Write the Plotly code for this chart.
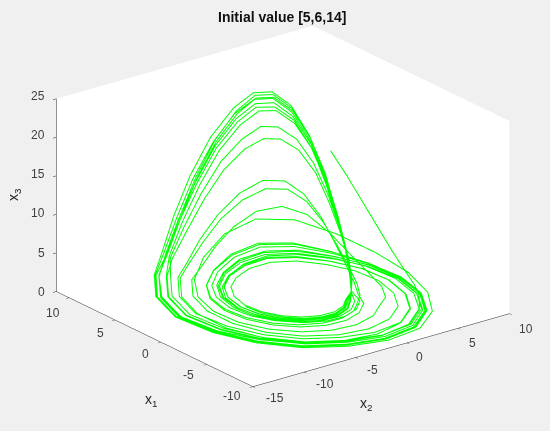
import plotly.graph_objects as go

# ---- trajectory, segment by segment (x1, x2, x3) ----
init_x1 = [5.0, 3.12, 1.71, 0.3, -1.1, -2.27, -3.15, -4.3, -5.94, -7.66, -8.1, -7.48, -6.09, -3.8, -0.87, 2.56, 5.9, 8.69]
init_x2 = [6.0, 5.86, 6.06, 6.26, 6.46, 6.68, 6.87, 6.3, 4.86, 2.28, -0.8, -3.8, -6.58, -8.77, -10.26, -10.75, -9.63, -7.42]
init_x3 = [14.0, 12.0, 9.5, 7.0, 4.5, 2.5, 1.0, 0.5, 0.3, 0.2, 0.15, 0.15, 0.15, 0.15, 0.15, 0.2, 0.4, 0.8]

s0_x1 = [9.8, 10.5, 10.4, 9.5, 8.0, 6.4, 4.8, 3.3, 2.0, 1.0, 0.3, -0.3, -0.9, -1.4]
s0_x2 = [-5.6, -3.7, -2.2, -1.1, -0.4, 0.0, 0.3, 0.8, 1.4, 2.0, 2.5, 2.8, 2.7, 2.3]
s0_x3 = [2.2, 5.7, 10.4, 15.3, 19.5, 22.3, 23.2, 22.1, 19.0, 14.4, 9.5, 5.3, 2.4, 0.9]

a_x1 = [-1.88, -2.74, -3.24, -3.26, -2.72, -1.63, -0.09, 1.74, 3.64, 5.36, 6.65, 7.36, 7.35, 6.45, 4.69, 2.23, -0.70, -3.67, -6.31, -8.18, -8.66, -7.94, -6.42, -3.97, -0.90, 2.58, 5.95, 8.69]
a_x2 = [1.45, 0.49, -0.80, -2.28, -3.75, -5.01, -5.85, -6.12, -5.72, -4.63, -2.93, -0.80, 1.58, 3.95, 5.94, 7.27, 7.67, 6.94, 5.17, 2.47, -0.80, -3.97, -6.86, -9.05, -10.46, -10.90, -9.72, -7.42]
a_x3 = [0.3, 0.2, 0.15, 0.15, 0.15, 0.15, 0.15, 0.15, 0.2, 0.25, 0.5, 0.9, 1.1, 0.9, 0.5, 0.3, 0.2, 0.15, 0.15, 0.15, 0.15, 0.15, 0.15, 0.15, 0.2, 0.3, 0.45, 0.8]

sa_x1 = [9.9, 10.6, 10.5, 9.6, 8.1, 6.5, 4.9, 3.4, 2.1, 1.1, 0.3, -0.3, -0.9, -1.4]
sa_x2 = [-5.6, -3.7, -2.2, -1.1, -0.4, 0.0, 0.3, 0.8, 1.4, 2.0, 2.5, 2.8, 2.7, 2.3]
sa_x3 = [2.2, 5.8, 10.5, 15.5, 19.8, 22.6, 23.5, 22.4, 19.2, 14.6, 9.6, 5.4, 2.4, 0.9]

b_x1 = [-1.83, -2.65, -3.13, -3.14, -2.64, -1.61, -0.15, 1.60, 3.41, 5.05, 6.28, 6.97, 6.97, 6.11, 4.43, 2.07, -0.74, -3.59, -6.13, -7.92, -8.37, -7.67, -6.22, -3.87, -0.94, 2.41, 5.65, 8.28]
b_x2 = [1.42, 0.52, -0.70, -2.10, -3.50, -4.70, -5.51, -5.77, -5.39, -4.35, -2.73, -0.70, 1.58, 3.84, 5.76, 7.03, 7.43, 6.73, 5.03, 2.44, -0.70, -3.74, -6.51, -8.61, -9.96, -10.40, -9.27, -7.07]
b_x3 = [0.3, 0.2, 0.15, 0.15, 0.15, 0.15, 0.15, 0.15, 0.2, 0.25, 0.4, 0.7, 0.9, 0.7, 0.4, 0.3, 0.2, 0.15, 0.15, 0.15, 0.15, 0.15, 0.15, 0.15, 0.2, 0.3, 0.45, 0.8]

sb_x1 = [9.7, 10.4, 10.2, 9.3, 7.8, 6.2, 4.7, 3.2, 1.9, 1.0, 0.3, -0.3, -0.9, -1.4]
sb_x2 = [-5.5, -3.6, -2.1, -1.0, -0.3, 0.1, 0.4, 0.9, 1.5, 2.0, 2.5, 2.8, 2.7, 2.3]
sb_x3 = [2.0, 5.3, 9.6, 14.2, 18.1, 20.7, 21.5, 20.5, 17.6, 13.4, 8.8, 4.9, 2.2, 0.8]

c_x1 = [-2.09, -3.01, -3.53, -3.51, -2.90, -1.71, -0.05, 1.90, 3.91, 5.71, 7.05, 7.77, 7.73, 6.77, 4.93, 2.37, -0.64, -3.69, -6.38, -8.28, -8.77, -8.03, -6.48, -3.97, -0.84, 2.72, 6.15, 8.94]
c_x2 = [1.61, 0.52, -0.90, -2.50, -4.09, -5.42, -6.30, -6.56, -6.10, -4.94, -3.14, -0.90, 1.59, 4.03, 6.08, 7.42, 7.82, 7.05, 5.21, 2.44, -0.90, -4.14, -7.09, -9.33, -10.75, -11.19, -9.99, -7.65]
c_x3 = [0.3, 0.2, 0.15, 0.15, 0.15, 0.15, 0.15, 0.15, 0.2, 0.25, 0.6, 1.2, 1.6, 1.3, 0.7, 0.3, 0.2, 0.15, 0.15, 0.15, 0.15, 0.15, 0.15, 0.15, 0.2, 0.3, 0.45, 0.8]

sc_x1 = [10.1, 10.9, 10.8, 9.9, 8.3, 6.6, 5.0, 3.5, 2.2, 1.1, 0.4, -0.2, -0.8, -1.4]
sc_x2 = [-5.9, -4.0, -2.5, -1.3, -0.5, -0.1, 0.3, 0.8, 1.4, 2.0, 2.5, 2.8, 2.7, 2.3]
sc_x3 = [2.2, 5.9, 10.6, 15.7, 20.1, 22.9, 23.8, 22.7, 19.4, 14.8, 9.7, 5.5, 2.4, 0.9]

d_x1 = [-2.49, -3.44, -3.92, -3.84, -3.14, -1.88, -0.17, 1.81, 3.80, 5.56, 6.83, 7.49, 7.38, 6.41, 4.62, 2.19, -0.64, -3.47, -5.95, -7.68, -8.08, -7.36, -5.93, -3.64, -0.79, 2.46, 5.60, 8.15]
d_x2 = [2.16, 0.94, -0.60, -2.29, -3.91, -5.24, -6.09, -6.29, -5.80, -4.59, -2.80, -0.60, 1.79, 4.11, 6.02, 7.24, 7.56, 6.80, 5.06, 2.48, -0.60, -3.56, -6.25, -8.28, -9.59, -10.02, -8.91, -6.77]
d_x3 = [0.3, 0.2, 0.15, 0.15, 0.15, 0.15, 0.15, 0.15, 0.2, 0.25, 0.5, 1.0, 1.2, 1.0, 0.5, 0.3, 0.2, 0.15, 0.15, 0.15, 0.15, 0.15, 0.15, 0.15, 0.2, 0.3, 0.45, 0.8]

sd_x1 = [9.6, 10.2, 10.0, 9.1, 7.6, 6.0, 4.5, 3.0, 1.8, 0.9, 0.2, -0.4, -0.9, -1.4]
sd_x2 = [-5.5, -3.6, -2.1, -1.0, -0.3, 0.1, 0.4, 0.9, 1.5, 2.1, 2.6, 2.9, 2.8, 2.3]
sd_x3 = [1.8, 4.8, 8.7, 12.9, 16.4, 18.8, 19.5, 18.6, 15.9, 12.1, 8.0, 4.5, 2.0, 0.8]

e_x1 = [-1.96, -2.78, -3.22, -3.19, -2.61, -1.53, -0.05, 1.68, 3.45, 5.02, 6.18, 6.79, 6.72, 5.87, 4.27, 2.06, -0.52, -3.12, -5.41, -7.02, -7.38, -6.71, -5.40, -3.29, -0.66, 2.34, 5.25, 7.62]
e_x2 = [1.51, 0.50, -0.80, -2.25, -3.66, -4.84, -5.60, -5.80, -5.39, -4.34, -2.76, -0.80, 1.35, 3.46, 5.21, 6.35, 6.67, 5.99, 4.41, 2.05, -0.80, -3.52, -6.00, -7.87, -9.10, -9.53, -8.51, -6.52]
e_x3 = [0.3, 0.2, 0.15, 0.15, 0.15, 0.15, 0.15, 0.15, 0.2, 0.25, 0.4, 0.6, 0.8, 0.6, 0.4, 0.3, 0.2, 0.15, 0.15, 0.15, 0.15, 0.15, 0.15, 0.15, 0.2, 0.3, 0.45, 0.8]

me_x1 = [8.6, 9.2, 9.0, 8.1, 6.8, 5.3, 3.9, 2.6, 1.4, 0.3, -0.8, -1.8]
me_x2 = [-4.8, -3.0, -1.4, -0.1, 1.0, 1.8, 2.4, 2.9, 3.2, 3.3, 3.1, 2.6]
me_x3 = [1.4, 3.4, 6.2, 9.0, 11.0, 11.5, 10.4, 8.0, 5.2, 2.9, 1.4, 0.6]

f_x1 = [-2.98, -4.02, -4.53, -4.42, -3.64, -2.24, -0.36, 1.80, 3.97, 5.86, 7.24, 7.93, 7.80, 6.74, 4.80, 2.18, -0.84, -3.86, -6.49, -8.33, -8.77, -8.03, -6.48, -4.04, -0.99, 2.47, 5.80, 8.51]
f_x2 = [2.09, 0.72, -1.00, -2.86, -4.64, -6.09, -7.01, -7.22, -6.66, -5.33, -3.38, -1.00, 1.58, 4.07, 6.10, 7.40, 7.72, 6.90, 5.04, 2.29, -1.00, -4.17, -7.03, -9.20, -10.58, -11.01, -9.83, -7.56]
f_x3 = [0.3, 0.2, 0.15, 0.15, 0.15, 0.15, 0.15, 0.15, 0.2, 0.3, 0.7, 1.4, 1.9, 1.6, 0.9, 0.4, 0.2, 0.15, 0.15, 0.15, 0.15, 0.15, 0.15, 0.15, 0.2, 0.3, 0.45, 0.8]

sf_x1 = [9.9, 10.6, 10.4, 9.5, 8.0, 6.4, 4.8, 3.3, 2.0, 1.0, 0.3, -0.3, -0.9, -1.5]
sf_x2 = [-5.7, -3.8, -2.3, -1.2, -0.5, -0.1, 0.3, 0.8, 1.4, 2.0, 2.5, 2.8, 2.6, 2.2]
sf_x3 = [2.1, 5.6, 10.0, 14.8, 18.9, 21.6, 22.5, 21.4, 18.4, 14.0, 9.2, 5.2, 2.3, 0.9]

g_x1 = [-1.70, -2.47, -2.86, -2.80, -2.26, -1.25, 0.12, 1.71, 3.32, 4.75, 5.79, 6.33, 6.26, 5.47, 4.02, 2.03, -0.28, -2.60, -4.64, -6.07, -6.64, -6.27, -5.01, -3.00, -0.46, 2.27, 4.85, 6.95]
g_x2 = [1.49, 0.52, -0.70, -2.05, -3.35, -4.42, -5.11, -5.29, -4.89, -3.93, -2.48, -0.70, 1.25, 3.14, 4.70, 5.71, 5.98, 5.36, 3.95, 1.83, -0.70, -3.31, -5.66, -7.45, -8.41, -8.45, -7.54, -5.78]
g_x3 = [0.3, 0.2, 0.15, 0.15, 0.15, 0.15, 0.15, 0.15, 0.2, 0.25, 0.3, 0.5, 0.6, 0.5, 0.3, 0.25, 0.2, 0.15, 0.15, 0.15, 0.15, 0.15, 0.15, 0.15, 0.2, 0.25, 0.35, 0.6]

lg_x1 = [7.9, 8.5, 8.4, 7.7, 6.5, 5.0, 3.4, 1.7, 0.0, -1.7, -3.0]
lg_x2 = [-3.9, -2.1, -0.4, 1.2, 2.6, 3.7, 4.5, 5.0, 5.2, 5.0, 4.2]
lg_x3 = [1.2, 2.6, 4.6, 6.4, 7.2, 6.6, 4.8, 2.8, 1.4, 0.6, 0.3]

h_x1 = [-3.80, -5.01, -5.56, -5.35, -4.35, -2.65, -0.43, 2.06, 4.52, 6.64, 8.13, 8.83, 8.60, 7.36, 5.22, 2.39, -0.83, -4.00, -6.73, -8.61, -9.04, -8.26, -6.65, -4.10, -0.94, 2.62, 6.05, 8.84]
h_x2 = [2.96, 1.21, -0.90, -3.14, -5.22, -6.88, -7.87, -8.05, -7.34, -5.80, -3.57, -0.90, 1.94, 4.61, 6.76, 8.07, 8.34, 7.41, 5.42, 2.52, -0.90, -4.19, -7.15, -9.38, -10.78, -11.21, -9.99, -7.65]
h_x3 = [0.25, 0.2, 0.15, 0.15, 0.15, 0.15, 0.15, 0.2, 0.35, 0.8, 2.0, 3.6, 4.6, 4.2, 2.8, 1.5, 0.7, 0.3, 0.15, 0.15, 0.15, 0.15, 0.15, 0.15, 0.2, 0.3, 0.45, 0.8]

sh_x1 = [10.0, 10.7, 10.6, 9.7, 8.2, 6.5, 4.9, 3.4, 2.1, 1.1, 0.4, -0.2, -0.8, -1.4]
sh_x2 = [-5.8, -3.9, -2.4, -1.2, -0.5, -0.1, 0.3, 0.8, 1.4, 2.0, 2.5, 2.8, 2.7, 2.3]
sh_x3 = [2.2, 5.7, 10.3, 15.2, 19.4, 22.1, 23.0, 21.9, 18.8, 14.3, 9.4, 5.3, 2.3, 0.9]

i_x1 = [-2.03, -2.90, -3.38, -3.35, -2.77, -1.65, -0.09, 1.74, 3.61, 5.29, 6.53, 7.20, 7.15, 6.25, 4.54, 2.16, -0.63, -3.45, -5.94, -7.70, -8.12, -7.42, -5.99, -3.68, -0.80, 2.48, 5.65, 8.23]
i_x2 = [1.58, 0.55, -0.80, -2.31, -3.80, -5.04, -5.86, -6.10, -5.67, -4.57, -2.89, -0.80, 1.51, 3.78, 5.68, 6.92, 7.28, 6.56, 4.86, 2.29, -0.80, -3.78, -6.49, -8.55, -9.88, -10.32, -9.20, -7.04]
i_x3 = [0.3, 0.2, 0.15, 0.15, 0.15, 0.15, 0.15, 0.15, 0.2, 0.25, 0.5, 0.8, 1.0, 0.8, 0.5, 0.3, 0.2, 0.15, 0.15, 0.15, 0.15, 0.15, 0.15, 0.15, 0.2, 0.3, 0.45, 0.8]

si_x1 = [9.5, 10.0, 9.8, 8.9, 7.4, 5.8, 4.3, 2.9, 1.7, 0.8, 0.1, -0.4, -0.9, -1.4]
si_x2 = [-5.4, -3.5, -2.0, -0.9, -0.2, 0.2, 0.5, 1.0, 1.6, 2.1, 2.6, 2.9, 2.8, 2.3]
si_x3 = [1.7, 4.4, 8.0, 11.9, 15.2, 17.3, 18.0, 17.2, 14.7, 11.2, 7.4, 4.1, 1.8, 0.7]

j_x1 = [-2.36, -3.24, -3.68, -3.61, -2.95, -1.78, -0.20, 1.63, 3.47, 5.09, 6.26, 6.86, 6.76, 5.86, 4.21, 1.97, -0.62, -3.22, -5.49, -7.07, -7.72, -7.30, -5.90, -3.64, -0.82, 2.23, 5.10, 7.44]
j_x2 = [1.77, 0.63, -0.80, -2.37, -3.87, -5.10, -5.87, -6.06, -5.60, -4.48, -2.82, -0.80, 1.41, 3.53, 5.28, 6.40, 6.69, 5.99, 4.40, 2.03, -0.80, -3.71, -6.34, -8.32, -9.40, -9.44, -8.42, -6.46]
j_x3 = [0.3, 0.2, 0.15, 0.15, 0.15, 0.15, 0.15, 0.15, 0.2, 0.25, 0.4, 0.7, 0.9, 0.7, 0.4, 0.3, 0.2, 0.15, 0.15, 0.15, 0.15, 0.15, 0.15, 0.15, 0.2, 0.3, 0.45, 0.8]

mj_x1 = [8.5, 9.0, 8.8, 7.9, 6.6, 5.1, 3.7, 2.4, 1.2, 0.1, -1.0, -2.0]
mj_x2 = [-4.7, -2.9, -1.3, 0.0, 1.1, 1.9, 2.5, 3.0, 3.3, 3.4, 3.2, 2.6]
mj_x3 = [1.3, 3.1, 5.7, 8.2, 10.0, 10.5, 9.5, 7.3, 4.8, 2.7, 1.3, 0.6]

k_x1 = [-2.55, -3.55, -4.06, -3.99, -3.26, -1.93, -0.12, 1.96, 4.08, 5.95, 7.31, 8.01, 7.91, 6.88, 4.98, 2.38, -0.64, -3.67, -6.32, -8.18, -8.64, -7.89, -6.35, -3.88, -0.81, 2.69, 6.05, 8.79]
k_x2 = [1.89, 0.62, -1.00, -2.78, -4.49, -5.90, -6.80, -7.03, -6.51, -5.24, -3.33, -1.00, 1.55, 4.02, 6.06, 7.37, 7.72, 6.92, 5.06, 2.30, -1.00, -4.19, -7.08, -9.28, -10.67, -11.11, -9.92, -7.62]
k_x3 = [0.3, 0.2, 0.15, 0.15, 0.15, 0.15, 0.15, 0.15, 0.2, 0.3, 0.7, 1.5, 2.0, 1.7, 0.9, 0.4, 0.2, 0.15, 0.15, 0.15, 0.15, 0.15, 0.15, 0.15, 0.2, 0.3, 0.45, 0.8]

sk_x1 = [9.8, 10.5, 10.3, 9.4, 7.9, 6.3, 4.7, 3.2, 2.0, 1.0, 0.3, -0.3, -0.9, -1.5]
sk_x2 = [-5.7, -3.8, -2.3, -1.2, -0.5, -0.1, 0.3, 0.8, 1.4, 2.0, 2.5, 2.8, 2.7, 2.2]
sk_x3 = [2.1, 5.4, 9.8, 14.5, 18.5, 21.2, 22.0, 21.0, 18.0, 13.7, 9.0, 5.1, 2.2, 0.8]

tail_x1 = [-1.85, -2.65, -3.1, -3.05, -2.55, -1.5, -0.1, 1.5]
tail_x2 = [1.4, 0.45, -0.8, -2.1, -3.4, -4.5, -5.25, -5.45]
tail_x3 = [0.3, 0.2, 0.15, 0.15, 0.15, 0.15, 0.15, 0.15]

# axis ticks
x1_ticks = [-10, -5, 0, 5, 10]
x2_ticks = [-15, -10, -5, 0, 5, 10]
x3_ticks = [0, 5, 10, 15, 20, 25]

segments = [
    (init_x1, init_x2, init_x3), (s0_x1, s0_x2, s0_x3),
    (a_x1, a_x2, a_x3), (sa_x1, sa_x2, sa_x3),
    (b_x1, b_x2, b_x3), (sb_x1, sb_x2, sb_x3),
    (c_x1, c_x2, c_x3), (sc_x1, sc_x2, sc_x3),
    (d_x1, d_x2, d_x3), (sd_x1, sd_x2, sd_x3),
    (e_x1, e_x2, e_x3), (me_x1, me_x2, me_x3),
    (f_x1, f_x2, f_x3), (sf_x1, sf_x2, sf_x3),
    (g_x1, g_x2, g_x3), (lg_x1, lg_x2, lg_x3),
    (h_x1, h_x2, h_x3), (sh_x1, sh_x2, sh_x3),
    (i_x1, i_x2, i_x3), (si_x1, si_x2, si_x3),
    (j_x1, j_x2, j_x3), (mj_x1, mj_x2, mj_x3),
    (k_x1, k_x2, k_x3), (sk_x1, sk_x2, sk_x3),
    (tail_x1, tail_x2, tail_x3),
]
X1, X2, X3 = [], [], []
for s1, s2, s3 in segments:
    X1 += s1
    X2 += s2
    X3 += s3

AX = '#262626'
LBL = '#404040'
FONT = 'Liberation Sans, Arial, Helvetica, sans-serif'

def axis(rng, ticks):
    return dict(
        range=rng, tickvals=ticks, showticklabels=False,
        showgrid=False, zeroline=False, showline=True, linecolor=AX, linewidth=1,
        ticks='outside', tickcolor=AX, ticklen=4,
        showbackground=True, backgroundcolor='white',
        showspikes=False, title=dict(text=''),
    )

fig = go.Figure(go.Scatter3d(
    x=X2, y=X1, z=X3, mode='lines',
    line=dict(color='#00ff00', width=2), hoverinfo='skip', showlegend=False,
))

# tick labels placed beside the axis ticks (upright text, as in the picture)
x3_lbl_pos = [(47, 292), (47, 253), (47, 213), (47, 174), (47, 135), (47, 96)]
x1_lbl_pos = [(232, 396), (188, 375), (145, 354), (100, 333), (53, 313)]
x2_lbl_pos = [(275, 398), (325, 384), (372, 370), (419, 357), (472, 343), (526, 329)]

ann = []
for t, (px, py) in zip(x3_ticks, x3_lbl_pos):
    ann.append(dict(text=str(t), x=px / 550, y=1 - py / 431, xanchor='right', yanchor='middle'))
for t, (px, py) in zip(x1_ticks, x1_lbl_pos):
    ann.append(dict(text=str(t), x=px / 550, y=1 - py / 431, xanchor='center', yanchor='middle'))
for t, (px, py) in zip(x2_ticks, x2_lbl_pos):
    ann.append(dict(text=str(t), x=px / 550, y=1 - py / 431, xanchor='center', yanchor='middle'))
for a in ann:
    a.update(xref='paper', yref='paper', showarrow=False, font=dict(family=FONT, size=12, color=LBL))

ann += [
    dict(text='<b>Initial value [5,6,14]</b>', x=282 / 550, y=1 - 17 / 431,
         xref='paper', yref='paper', showarrow=False, xanchor='center', yanchor='middle',
         font=dict(family=FONT, size=14, color='#111111')),
    dict(text='x<sub>1</sub>', x=151 / 550, y=1 - 400 / 431, xref='paper', yref='paper',
         showarrow=False, xanchor='center', yanchor='middle',
         font=dict(family=FONT, size=14, color=AX)),
    dict(text='x<sub>2</sub>', x=366 / 550, y=1 - 404 / 431, xref='paper', yref='paper',
         showarrow=False, xanchor='center', yanchor='middle',
         font=dict(family=FONT, size=14, color=AX)),
    dict(text='x<sub>3</sub>', x=14 / 550, y=1 - 195 / 431, xref='paper', yref='paper',
         showarrow=False, xanchor='center', yanchor='middle', textangle=-90,
         font=dict(family=FONT, size=14, color=AX)),
]

fig.update_layout(
    width=550, height=431,
    margin=dict(l=0, r=0, t=0, b=0),
    paper_bgcolor='#f0f0f0',
    font=dict(family=FONT, color=AX),
    scene=dict(
        xaxis=axis([-15, 10], x2_ticks),
        yaxis=axis([-10, 11.4], x1_ticks),
        zaxis=axis([0, 25], x3_ticks),
        aspectmode='manual', aspectratio=dict(x=1.50, y=1.50, z=0.963),
        bgcolor='#f0f0f0',
        domain=dict(x=[0, 1], y=[0, 1]),
        camera=dict(eye=dict(x=-0.594 * 1.3, y=-0.729 * 1.3, z=0.340 * 1.3),
                    up=dict(x=0, y=0, z=1), center=dict(x=-0.0385, y=0.0095, z=-0.040),
                    projection=dict(type='orthographic')),
    ),
    annotations=ann,
)

fig.write_html('out.html', config={'displayModeBar': False},
               post_script="document.body.style.margin='0';document.body.style.padding='0';")
